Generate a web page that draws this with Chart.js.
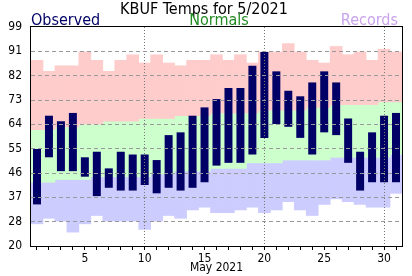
<!DOCTYPE html>
<html>
<head>
<meta charset="utf-8">
<script src="https://cdn.jsdelivr.net/npm/chart.js@4/dist/chart.umd.min.js"></script>
<style>
html,body{margin:0;padding:0;background:#fff;}
#c{display:block;}
</style>
</head>
<body>
<canvas id="c" width="412" height="276"></canvas>
<script>
const days = ['1','2','3','4','5','6','7','8','9','10','11','12','13','14','15','16','17','18','19','20','21','22','23','24','25','26','27','28','29','30','31'];
const obsHigh = [55,67,65,68,52,54,48,54,53,53,51,60,61,67,70,73,77,77,85,90,83,76,74,79,83,79,66,54,61,67,68];
const obsLow  = [35,52,47,47,45,38,41,40,40,42,39,41,40,41,43,49,50,50,53,59,64,63,59,53,61,60,50,40,43,43,43];
const normHigh = [62,62,63,63,64,64,65,65,65,66,66,66,67,67,67,68,68,68,68,69,69,69,69,70,70,71,71,71,71,72,72];
const normLow  = [43,43,44,44,44,45,45,45,45,45,46,46,47,47,47,48,48,48,50,50,50,51,51,51,51,52,52,52,52,52,53];
const recHigh = [87,83,85,85,90,87,83,87,89,86,89,86,85,87,87,89,87,89,86,90,90,93,90,87,86,92,89,90,87,91,90];
const recLow  = [28,30,29,25,28,31,29,29,29,26,29,31,30,33,34,32,32,33,34,32,33,36,33,31,35,37,36,35,34,34,39];
const yTickLabels = ['20','28','37','46','55','64','73','82','91','99'];
const xLabelDays = ['5','10','15','20','25','30'];
const xGridDays = ['10','20','30'];

const FONT = '"DejaVu Sans Condensed", "DejaVu Sans", sans-serif';
const yMin = Number(yTickLabels[0]), yMax = Number(yTickLabels[yTickLabels.length-1]);

const pair = (a,b) => a.map((v,i)=>[v,b[i]]);

const textPlugin = {
  id:'texts',
  afterDraw(chart){
    const ctx = chart.ctx, a = chart.chartArea;
    ctx.save();
    ctx.strokeStyle = '#000'; ctx.lineWidth = 1;
    ctx.strokeRect(a.left-0.5, a.top-0.5, a.right-a.left+1, a.bottom-a.top+1);
    ctx.textBaseline = 'alphabetic';
    ctx.font = '16px ' + FONT;
    ctx.fillStyle = '#000'; ctx.textAlign = 'center';
    ctx.fillText('KBUF Temps for 5/2021', 204, 13.5);
    ctx.fillStyle = '#000066'; ctx.textAlign = 'left';
    ctx.fillText('Observed', a.left, 25);
    ctx.fillStyle = '#228b22'; ctx.textAlign = 'center';
    ctx.fillText('Normals', 219, 25);
    ctx.fillStyle = '#c9a3ec'; ctx.textAlign = 'right';
    ctx.fillText('Records', 398, 25);
    ctx.restore();
  }
};

const band = {barPercentage:1, categoryPercentage:1, grouped:false, borderWidth:0};

new Chart(document.getElementById('c'), {
  type:'bar',
  data:{
    labels: days,
    datasets:[
      Object.assign({label:'Record/Normal low', data: pair(recLow, normLow), backgroundColor:'#ccccff', order:4}, band),
      Object.assign({label:'Normals', data: pair(normLow, normHigh), backgroundColor:'#ccffcc', order:3}, band),
      Object.assign({label:'Records', data: pair(normHigh, recHigh), backgroundColor:'#ffcccc', order:2}, band),
      {label:'Observed', data: pair(obsLow, obsHigh), backgroundColor:'#000066', barPercentage:0.667, categoryPercentage:1, grouped:false, borderWidth:0, inflateAmount:0, order:1}
    ]
  },
  options:{
    responsive:false,
    animation:false,
    events:[],
    layout:{padding:{top:27, right:10, left:0, bottom:0}},
    plugins:{legend:{display:false}, title:{display:false}, tooltip:{enabled:false}},
    scales:{
      x:{
        type:'category',
        offset:true,
        afterFit(s){ s.height = 30; },
        grid:{
          offset:false, z:1, drawTicks:true, tickLength:4, tickColor:'#000', lineWidth:1,
          color:(c)=> (c.tick && xGridDays.includes(days[c.index])) ? '#777' : 'rgba(0,0,0,0)'
        },
        border:{display:false, dash:[1,2]},
        ticks:{
          autoSkip:false, maxRotation:0, padding:2, color:'#000',
          font:{family:FONT, size:12},
          callback:(v,i)=> xLabelDays.includes(days[i]) ? days[i] : ''
        },
        title:{display:true, text:'May 2021', color:'#000', font:{family:FONT, size:12}, padding:{top:0, bottom:1}}
      },
      y:{
        type:'linear', min:yMin, max:yMax,
        afterFit(s){ s.width = 31; },
        afterBuildTicks(s){ s.ticks = yTickLabels.map((t,i)=>({value: yMin + i*(yMax-yMin)/(yTickLabels.length-1)})); },
        grid:{
          z:1, drawTicks:false, lineWidth:1,
          color:(c)=> (c.index>0 && c.index<yTickLabels.length-1) ? '#999' : 'rgba(0,0,0,0)'
        },
        border:{display:false, dash:[4,3]},
        ticks:{
          padding:9, color:'#000', font:{family:FONT, size:12},
          callback:(v,i)=> yTickLabels[i]
        }
      }
    }
  },
  plugins:[textPlugin]
});
</script>
</body>
</html>
